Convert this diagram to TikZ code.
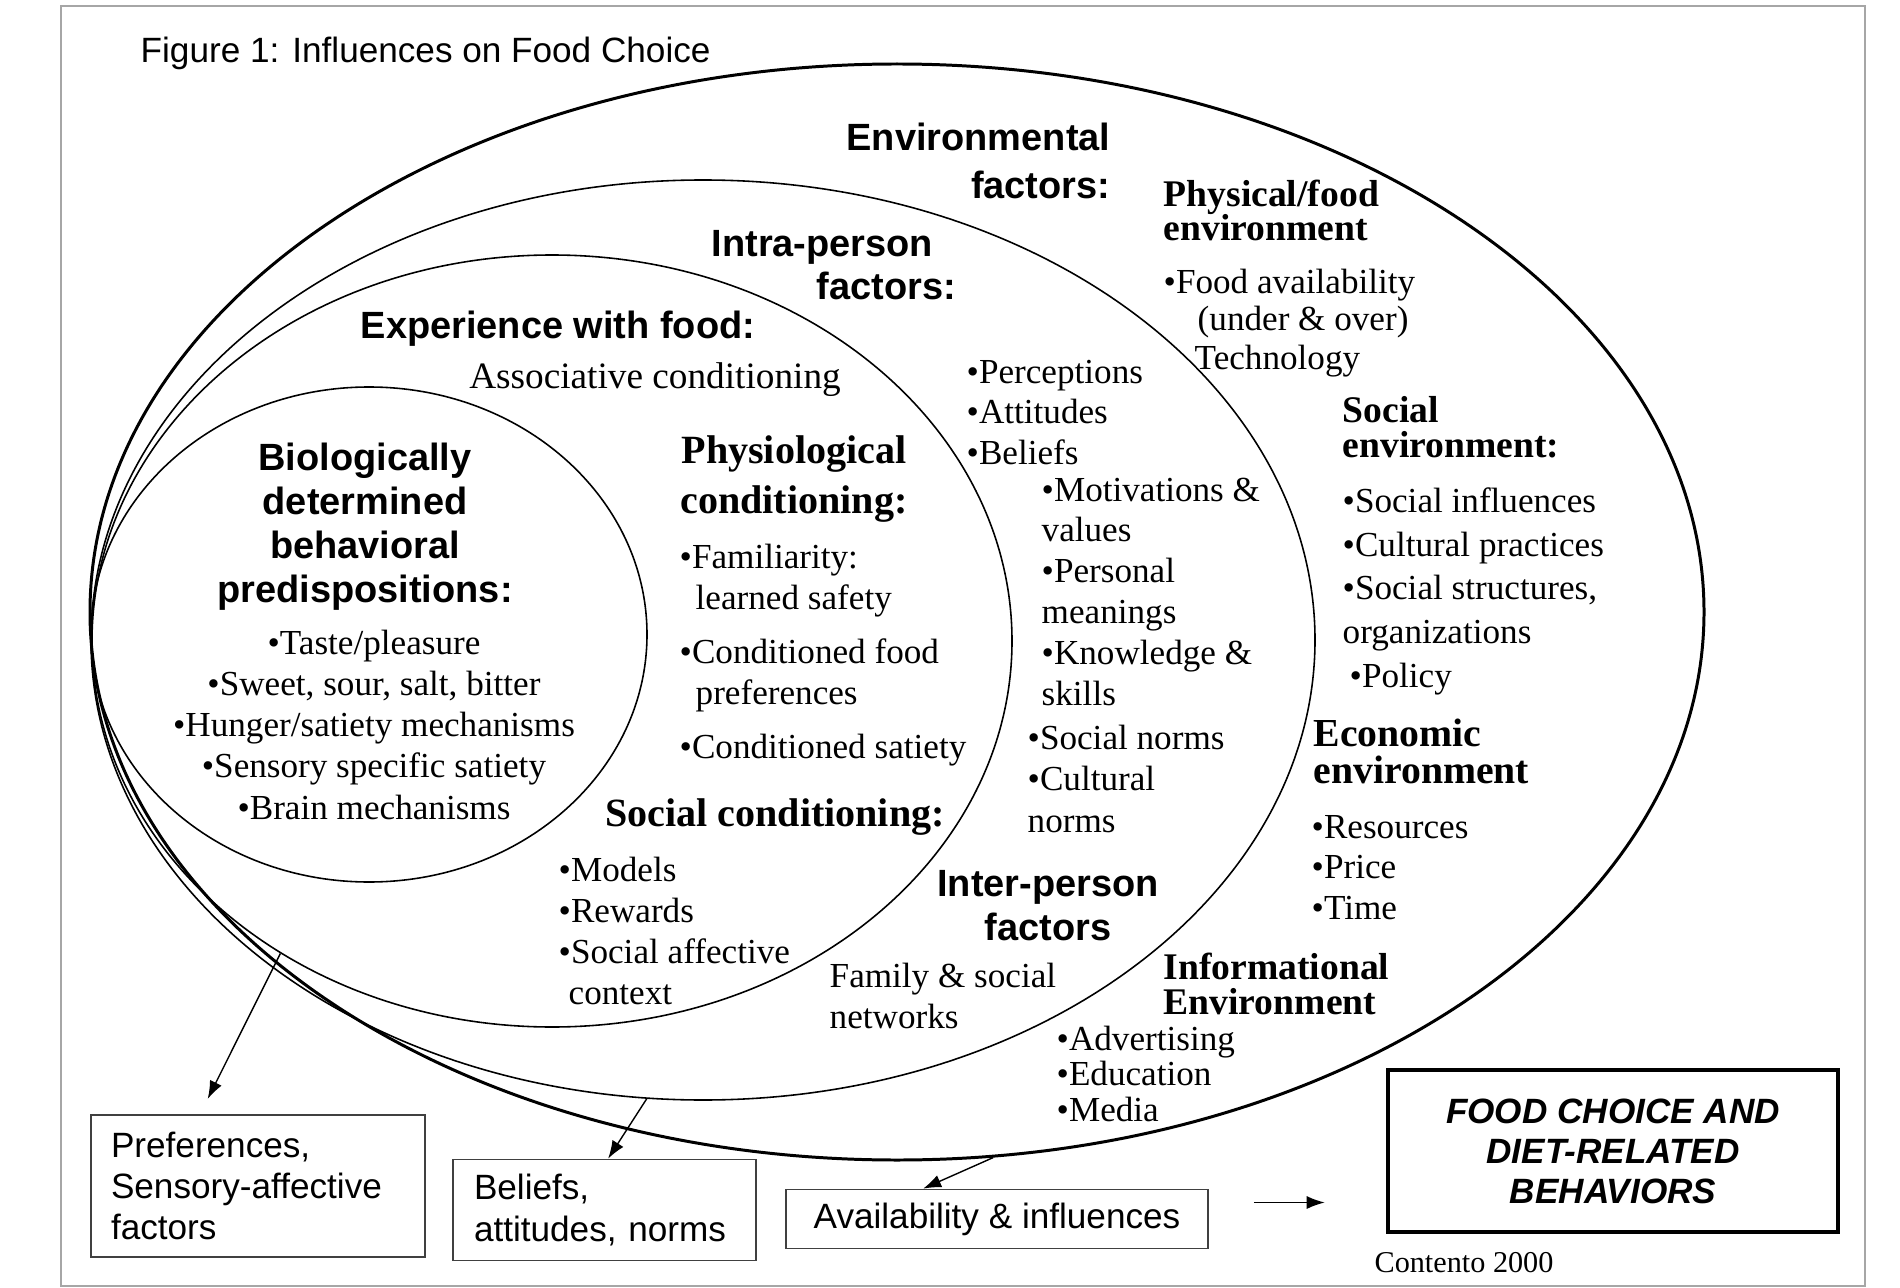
\documentclass[tikz,border=0pt]{standalone}
\usepackage{fontspec}
\setmainfont{Liberation Serif}
\newfontfamily\arialfont{Liberation Sans}
\usepackage{tikz}
\usetikzlibrary{shapes.geometric, arrows.meta, positioning}

\begin{document}
\begin{tikzpicture}[
    ring/.style={draw, ellipse, inner sep=0pt, line width=0.45pt},
    sanshead/.style={font=\arialfont\bfseries\fontsize{10.8}{12.5}\selectfont, inner sep=0pt},
    serifhead/.style={font=\bfseries\fontsize{10.7}{9.9}\selectfont, inner sep=0pt, align=left, anchor=base west},
    items/.style={font=\fontsize{10}{11.6}\selectfont, inner sep=0pt, align=left, anchor=base west},
    outbox/.style={draw=black!75, line width=0.5pt, font=\arialfont\fontsize{10}{11.7}\selectfont, inner xsep=2mm},
    arr/.style={-{Latex[length=1.8mm, width=1.3mm]}, line width=0.4pt}
]
    % Frame
    \useasboundingbox (0,0) rectangle (19,-12.88);
    \draw[black!35, line width=0.8pt] (0.61,-0.06) rectangle (18.65,-12.86);
    \node[font=\arialfont\fontsize{10}{12}\selectfont, anchor=base west, inner sep=0pt] (title) at (1.40,-0.63) {Figure 1: Influences on Food Choice};

    % Rings
    \node[ring, line width=0.85pt, minimum width=16.14cm, minimum height=10.96cm] (env) at (8.97,-6.12) {};
    \node[ring, minimum width=12.24cm, minimum height=9.20cm] (intra) at (7.03,-6.40) {};
    \node[ring, minimum width=9.20cm, minimum height=7.72cm] (exper) at (5.52,-6.41) {};
    \node[ring, minimum width=5.56cm, minimum height=4.95cm] (bio) at (3.69,-6.345) {};

    % Biological core (multi-line nodes sit on their last baseline)
    \node[sanshead, align=center, anchor=base] (biohead) at (3.65,-6.02) {Biologically\\determined\\behavioral\\predispositions:};
    \node[items, align=center, anchor=base, font=\fontsize{10}{11.7}\selectfont] (bioitems) at (3.74,-8.19) {•Taste/pleasure\\•Sweet, sour, salt, bitter\\•Hunger/satiety mechanisms\\•Sensory specific satiety\\•Brain mechanisms};

    % Experience with food
    \node[sanshead, anchor=base] (experhead) at (5.58,-3.39) {Experience with food:};
    \node[items, anchor=base, font=\fontsize{10.6}{11.6}\selectfont] (assoc) at (6.55,-3.88) {Associative conditioning};
    \node[serifhead, font=\bfseries\fontsize{11.4}{14.2}\selectfont, align=center, anchor=base] (physhead) at (7.94,-5.13) {Physiological\\conditioning:};
    \node[items] (famil) at (6.79,-6.09) {•Familiarity:\\\hspace*{1.6mm}learned safety};
    \node[items] (condfood) at (6.79,-7.04) {•Conditioned food\\\hspace*{1.6mm}preferences};
    \node[items] (condsat) at (6.79,-7.58) {•Conditioned satiety};
    \node[serifhead, font=\bfseries\fontsize{11.4}{14}\selectfont, anchor=base] (sochead) at (7.75,-8.26) {Social conditioning:};
    \node[items] (socitems) at (5.58,-10.04) {•Models\\•Rewards\\•Social affective\\\hspace*{1mm}context};

    % Intra- and inter-person
    \node[sanshead, align=left, anchor=base west] (intrahead) at (7.11,-3.00) {Intra-person\\\hspace*{1.05cm}factors:};
    \node[items, font=\fontsize{10}{11.4}\selectfont] (percep) at (9.66,-4.64) {•Perceptions\\•Attitudes\\•Beliefs};
    \node[items] (motiv) at (10.41,-7.05) {•Motivations \&\\values\\•Personal\\meanings\\•Knowledge \&\\skills};
    \node[items, font=\fontsize{10}{11.8}\selectfont] (norms) at (10.27,-8.32) {•Social norms\\•Cultural\\norms};
    \node[sanshead, align=center, anchor=base] (interhead) at (10.48,-9.40) {Inter-person\\factors};
    \node[items] (family) at (8.29,-10.28) {Family \& social\\networks};

    % Environmental
    \node[sanshead, align=right, anchor=base east] (envhead) at (11.11,-1.99) {Environmental\\[1.4pt]factors:};
    \node[serifhead] (physenv) at (11.63,-2.41) {Physical/food\\environment};
    \node[items, font=\fontsize{10}{10.4}\selectfont] (foodavail) at (11.63,-3.69) {•Food availability\\\hspace*{3.4mm}(under \& over)\\[0.6pt]\hspace*{3.1mm}Technology};
    \node[serifhead, font=\bfseries\fontsize{10.7}{10.2}\selectfont] (socenv) at (13.42,-4.58) {Social\\environment:};
    \node[items, font=\fontsize{10}{12.4}\selectfont] (socinfl) at (13.42,-6.87) {•Social influences\\•Cultural practices\\•Social structures,\\organizations\\\hspace*{0.7mm}•Policy};
    \node[serifhead, font=\bfseries\fontsize{11.3}{10.3}\selectfont] (econenv) at (13.13,-7.83) {Economic\\environment};
    \node[items, font=\fontsize{10}{11.5}\selectfont] (econitems) at (13.11,-9.19) {•Resources\\•Price\\•Time};
    \node[serifhead] (infoenv) at (11.63,-10.14) {Informational\\Environment};
    \node[items, font=\fontsize{10}{10}\selectfont] (infoitems) at (10.56,-11.21) {•Advertising\\•Education\\•Media};

    % Outcome boxes
    \node[outbox, minimum width=3.34cm, minimum height=1.42cm, text width=2.94cm, align=left] (pref) at (2.58,-11.86) {Preferences,\\Sensory-affective\\factors};
    \node[outbox, minimum width=3.03cm, minimum height=1.01cm, text width=2.61cm, inner xsep=2.1mm, align=left] (belief) at (6.045,-12.10) {Beliefs,\\attitudes, norms};
    \node[outbox, minimum width=4.22cm, minimum height=0.59cm] (avail) at (9.97,-12.19) {Availability \& influences};
    \node[draw, line width=1.3pt, minimum width=4.50cm, minimum height=1.62cm, align=center, font=\arialfont\bfseries\itshape\fontsize{10}{11.4}\selectfont] (food) at (16.13,-11.51) {FOOD CHOICE AND\\DIET-RELATED\\BEHAVIORS};
    \node[font=\fontsize{8.6}{10}\selectfont, inner sep=0pt] (credit) at (14.64,-12.63) {Contento 2000};

    % Arrows
    \draw[arr, shorten >=1.7mm] (exper.229.6) -- ([xshift=1.1cm]pref.north west);
    \draw[arr] (intra.263.8) -- ([xshift=1.56cm]belief.north west);
    \draw[arr] (env.280.6) -- ([xshift=1.38cm]avail.north west);
    \coordinate (link) at ([yshift=1.65mm]avail.east);
    \draw[arr, shorten <=4.5mm, shorten >=6.1mm] (link) -- (link -| food.west);
\end{tikzpicture}
\end{document}
